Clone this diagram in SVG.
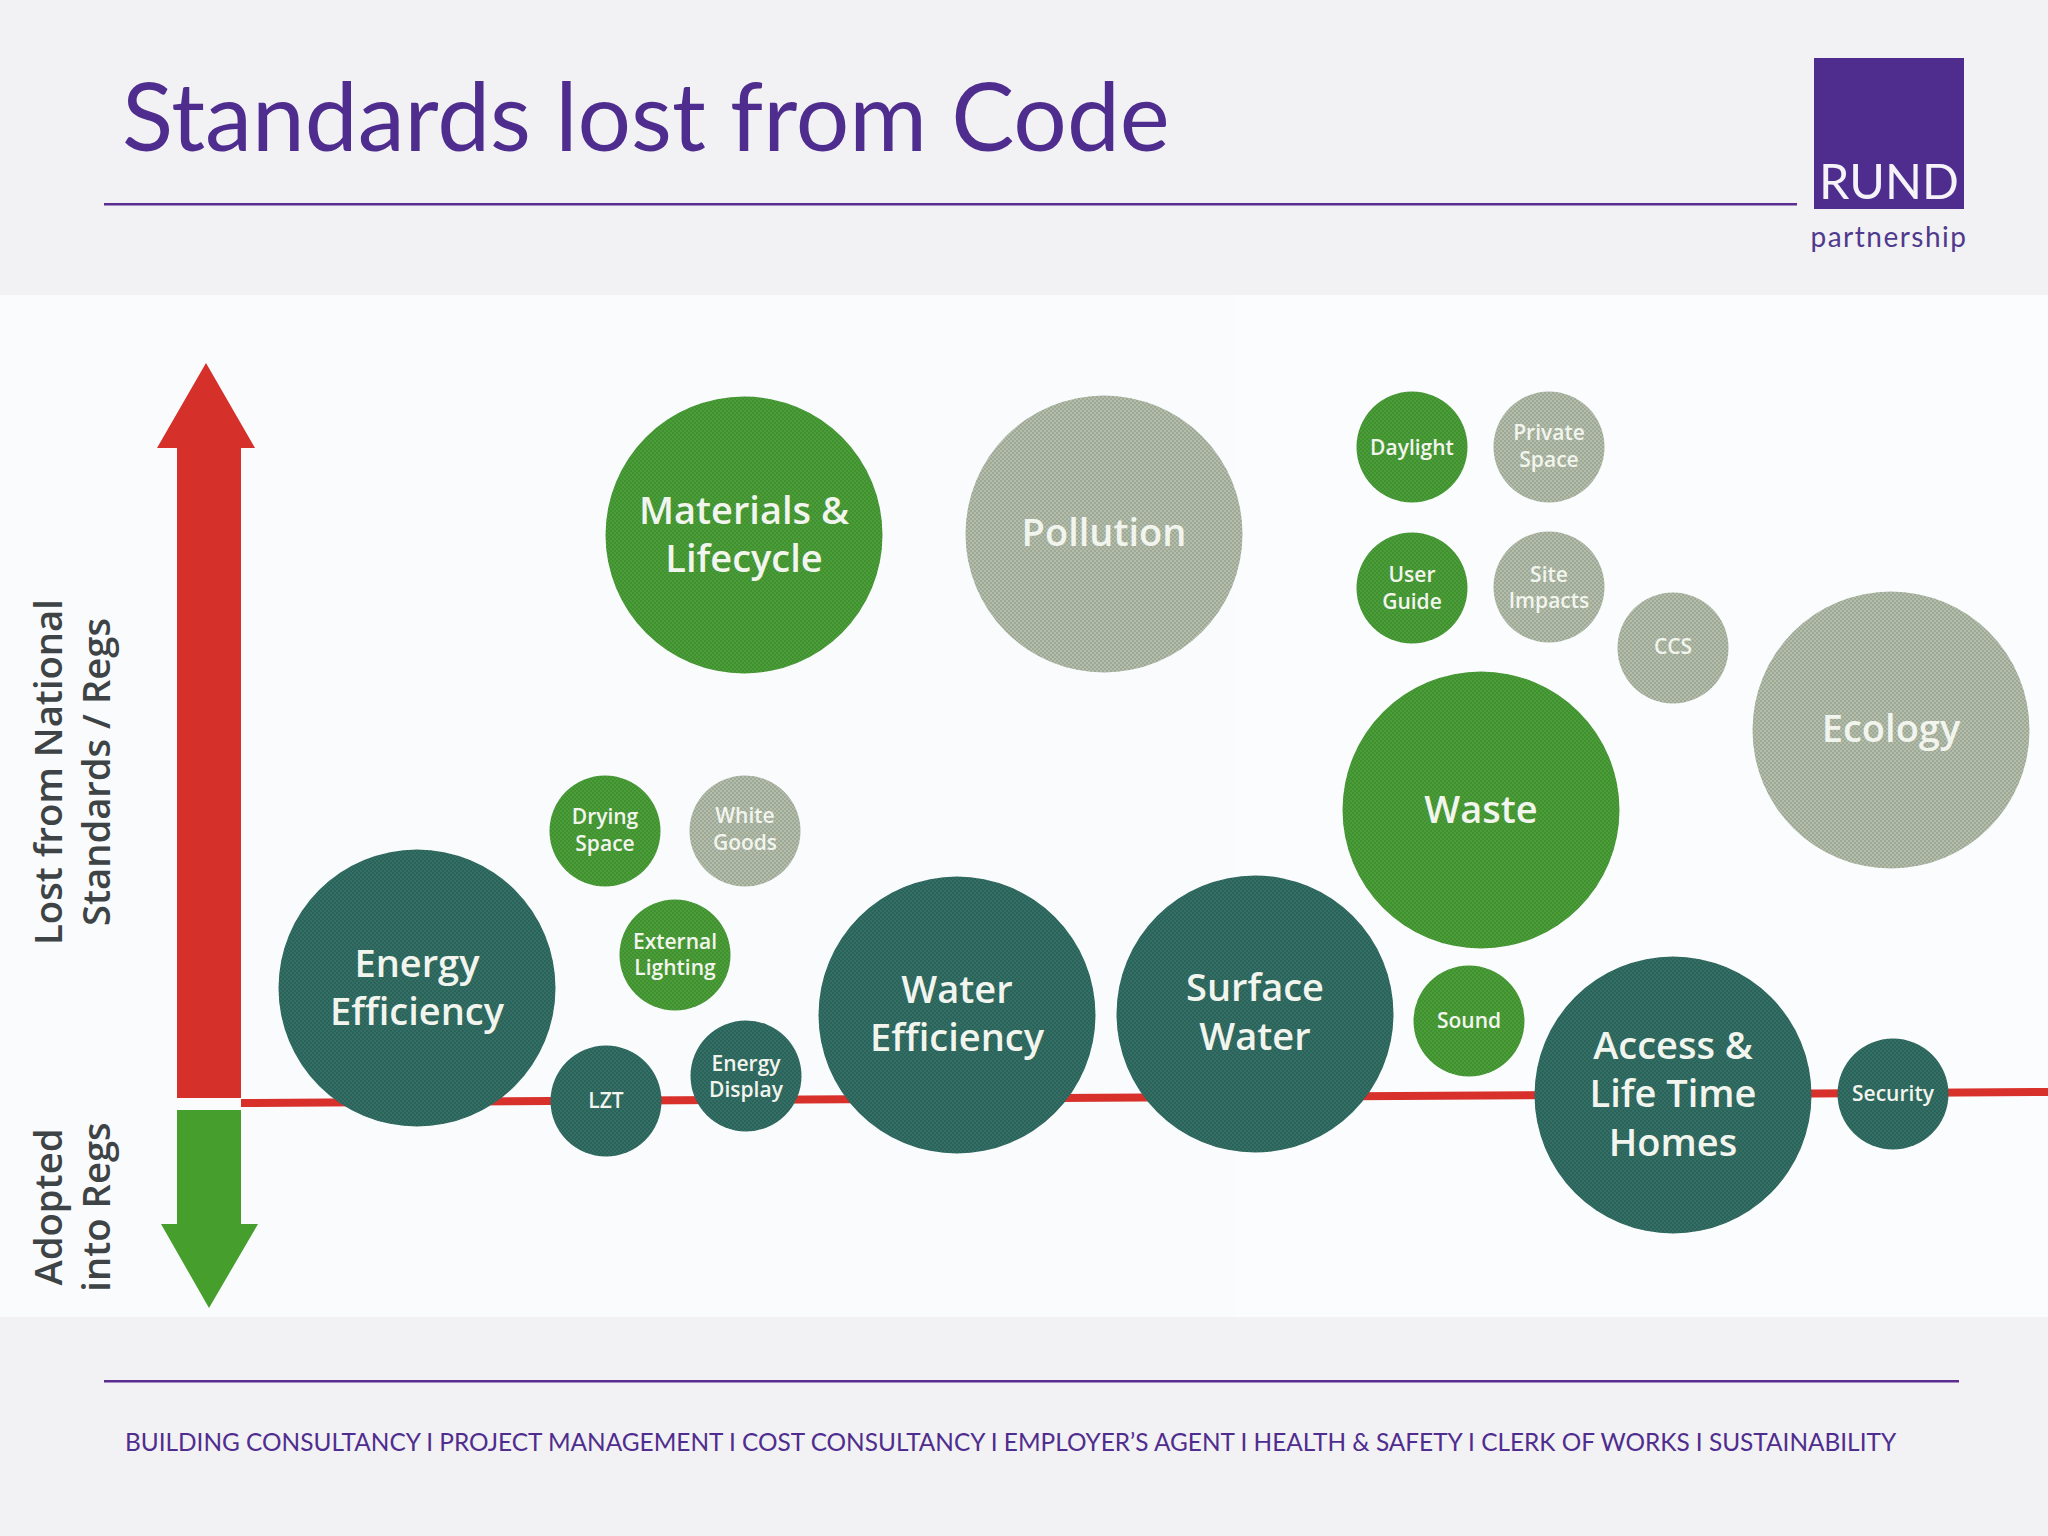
<svg xmlns="http://www.w3.org/2000/svg" width="2048" height="1536" viewBox="0 0 2048 1536">
<defs>
<pattern id="pg" width="4" height="4" patternUnits="userSpaceOnUse"><rect width="4" height="4" fill="#4a9e37"/><circle cx="1" cy="1" r="1" fill="#3f8c30"/><circle cx="3" cy="3" r="1" fill="#3f8c30"/></pattern>
<pattern id="ps" width="4" height="4" patternUnits="userSpaceOnUse"><rect width="4" height="4" fill="#b4bdac"/><circle cx="1" cy="1" r="1" fill="#96a28e"/><circle cx="3" cy="3" r="1" fill="#96a28e"/></pattern>
<pattern id="pt" width="4" height="4" patternUnits="userSpaceOnUse"><rect width="4" height="4" fill="#336f64"/><circle cx="1" cy="1" r="1" fill="#285e55"/><circle cx="3" cy="3" r="1" fill="#285e55"/></pattern>
</defs>
<style>
.purple{fill:#4f2d8e}
.hdr{font-family:"Lato","Carlito","Open Sans",sans-serif}
.n text{font-family:"Open Sans","Noto Sans",sans-serif;fill:#f2f5ee;text-anchor:middle;font-weight:600}
.big{font-size:38px}
.small{font-size:21px}
.g{fill:url(#pg)}
.s{fill:url(#ps)}
.t{fill:url(#pt)}
.axis{font-family:"Open Sans","Noto Sans",sans-serif;font-size:38.2px;fill:#3e4446;text-anchor:middle;font-weight:600}
</style>
<rect width="2048" height="1536" fill="#f2f1f3"/>
<rect x="0" y="295" width="2048" height="1022" fill="#fbfcfd"/>
<rect x="0" y="295" width="1235" height="1022" fill="#f9fbfd"/>
<text class="hdr purple" x="122" y="151" font-size="94.5">Standards lost from Code</text>
<rect x="104" y="203" width="1693" height="2.5" fill="#5b2d91"/>
<g id="logo">
<rect x="1814" y="58" width="150" height="151" fill="#4f2d8e"/>
<text x="1889" y="199" font-family="Lato,sans-serif" font-size="48.5" fill="#f5f3f8" text-anchor="middle">RUND</text>
<text x="1889" y="247" font-family="Lato,sans-serif" font-size="28" letter-spacing="1.5" fill="#4f3a8e" text-anchor="middle">partnership</text>
</g>
<g id="connectors">
<path d="M241 1103L2048 1092" stroke="#d8312b" stroke-width="8" fill="none"/>
<path id="arrow-up" d="M206 363L255 448H241V1098H177V448H157Z" fill="#d5302a"/>
<path id="arrow-down" d="M177 1110H241V1224H258L209 1308L161 1224H177Z" fill="#469f2c"/>
</g>
<text class="axis" transform="translate(62 772) rotate(-90)">Lost from National</text>
<text class="axis" transform="translate(110 772) rotate(-90)">Standards / Regs</text>
<text class="axis" transform="translate(62 1207) rotate(-90)">Adopted</text>
<text class="axis" transform="translate(110 1207) rotate(-90)">into Regs</text>
<g class="n" id="materials"><circle class="g" cx="744" cy="535" r="138.5"/><text class="big" x="744" y="524">Materials &amp;</text><text class="big" x="744" y="572">Lifecycle</text></g>
<g class="n" id="pollution"><circle class="s" cx="1104" cy="534" r="138.5"/><text class="big" x="1104" y="546">Pollution</text></g>
<g class="n" id="daylight"><circle class="g" cx="1412" cy="447" r="55.5"/><text class="small" x="1412" y="455">Daylight</text></g>
<g class="n" id="private-space"><circle class="s" cx="1549" cy="447" r="55.5"/><text class="small" x="1549" y="440">Private</text><text class="small" x="1549" y="467">Space</text></g>
<g class="n" id="user-guide"><circle class="g" cx="1412" cy="588" r="55.5"/><text class="small" x="1412" y="582">User</text><text class="small" x="1412" y="609">Guide</text></g>
<g class="n" id="site-impacts"><circle class="s" cx="1549" cy="587" r="55.5"/><text class="small" x="1549" y="582">Site</text><text class="small" x="1549" y="608">Impacts</text></g>
<g class="n" id="ccs"><circle class="s" cx="1673" cy="648" r="55.5"/><text class="small" x="1673" y="654">CCS</text></g>
<g class="n" id="ecology"><circle class="s" cx="1891" cy="730" r="138.5"/><text class="big" x="1891" y="742">Ecology</text></g>
<g class="n" id="waste"><circle class="g" cx="1481" cy="810" r="138.5"/><text class="big" x="1481" y="823">Waste</text></g>
<g class="n" id="drying-space"><circle class="g" cx="605" cy="831" r="55.5"/><text class="small" x="605" y="824">Drying</text><text class="small" x="605" y="851">Space</text></g>
<g class="n" id="white-goods"><circle class="s" cx="745" cy="831" r="55.5"/><text class="small" x="745" y="823">White</text><text class="small" x="745" y="850">Goods</text></g>
<g class="n" id="external-lighting"><circle class="g" cx="675" cy="955" r="55.5"/><text class="small" x="675" y="949">External</text><text class="small" x="675" y="975">Lighting</text></g>
<g class="n" id="energy-efficiency"><circle class="t" cx="417" cy="988" r="138.5"/><text class="big" x="417" y="977">Energy</text><text class="big" x="417" y="1025">Efficiency</text></g>
<g class="n" id="lzt"><circle class="t" cx="606" cy="1101" r="55.5"/><text class="small" x="606" y="1108">LZT</text></g>
<g class="n" id="energy-display"><circle class="t" cx="746" cy="1076" r="55.5"/><text class="small" x="746" y="1071">Energy</text><text class="small" x="746" y="1097">Display</text></g>
<g class="n" id="water-efficiency"><circle class="t" cx="957" cy="1015" r="138.5"/><text class="big" x="957" y="1003">Water</text><text class="big" x="957" y="1051">Efficiency</text></g>
<g class="n" id="surface-water"><circle class="t" cx="1255" cy="1014" r="138.5"/><text class="big" x="1255" y="1001">Surface</text><text class="big" x="1255" y="1050">Water</text></g>
<g class="n" id="sound"><circle class="g" cx="1469" cy="1021" r="55.5"/><text class="small" x="1469" y="1028">Sound</text></g>
<g class="n" id="access"><circle class="t" cx="1673" cy="1095" r="138.5"/><text class="big" x="1673" y="1059">Access &amp;</text><text class="big" x="1673" y="1107">Life Time</text><text class="big" x="1673" y="1156">Homes</text></g>
<g class="n" id="security"><circle class="t" cx="1893" cy="1094" r="55.5"/><text class="small" x="1893" y="1101">Security</text></g>
<rect x="104" y="1380" width="1855" height="2.5" fill="#5b2d91"/>
<text class="hdr purple" x="125" y="1451" font-size="24.4">BUILDING CONSULTANCY I PROJECT MANAGEMENT I COST CONSULTANCY I EMPLOYER’S AGENT I HEALTH &amp; SAFETY I CLERK OF WORKS I SUSTAINABILITY</text>
</svg>
